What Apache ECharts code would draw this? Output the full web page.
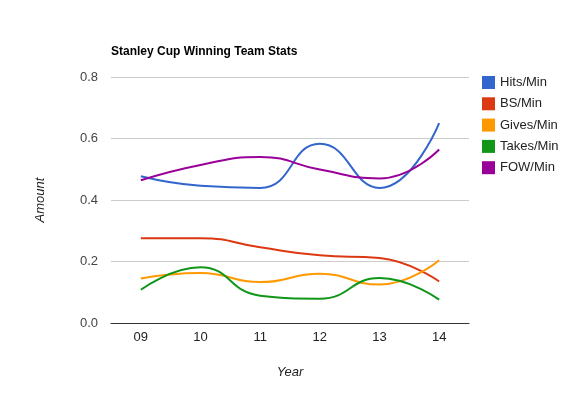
<!DOCTYPE html>
<html>
<head>
<meta charset="utf-8">
<script src="https://cdn.jsdelivr.net/npm/echarts@6/dist/echarts.min.js"></script>
<style>
html,body{margin:0;padding:0;background:#fff;}
#chart{width:580px;height:400px;}
</style>
</head>
<body>
<div id="chart"></div>
<script>
var years = ['09', '10', '11', '12', '13', '14'];
var hits = [0.477, 0.446, 0.439, 0.583, 0.439, 0.650];
var bs = [0.276, 0.276, 0.246, 0.220, 0.211, 0.135];
var gives = [0.145, 0.163, 0.133, 0.160, 0.125, 0.204];
var takes = [0.108, 0.181, 0.089, 0.079, 0.146, 0.076];
var fow = [0.464, 0.514, 0.540, 0.499, 0.470, 0.564];
var seriesNames = ['Hits/Min', 'BS/Min', 'Gives/Min', 'Takes/Min', 'FOW/Min'];
var seriesData = [hits, bs, gives, takes, fow];
var colors = ['#3366cc', '#dc3912', '#ff9900', '#109618', '#990099'];

var chart = echarts.init(document.getElementById('chart'), null, {renderer: 'canvas'});
var font = 'Arial, "Liberation Sans", sans-serif';
chart.setOption({
  animation: false,
  color: colors,
  textStyle: {fontFamily: font},
  title: {
    text: 'Stanley Cup Winning Team Stats',
    left: 111, top: 46, padding: 0,
    textStyle: {fontSize: 12, fontWeight: 'bold', color: '#000', fontFamily: font}
  },
  legend: {
    orient: 'vertical',
    left: 482, top: 76, padding: 0,
    icon: 'rect',
    itemWidth: 13, itemHeight: 13, itemGap: 8.3,
    textStyle: {fontSize: 13, color: '#222', fontFamily: font},
    data: seriesNames
  },
  grid: {left: 111, right: 111, top: 77, bottom: 77, containLabel: false},
  xAxis: {
    type: 'category',
    data: years,
    boundaryGap: true,
    name: 'Year',
    nameLocation: 'middle',
    nameGap: 43,
    nameTextStyle: {fontStyle: 'italic', fontSize: 13, color: '#222', fontFamily: font},
    axisLine: {lineStyle: {color: '#333', width: 1}},
    axisTick: {show: false},
    axisLabel: {fontSize: 13, color: '#222', margin: 8, fontFamily: font}
  },
  yAxis: {
    type: 'value',
    min: 0, max: 0.8, interval: 0.2,
    name: 'Amount',
    nameLocation: 'middle',
    nameGap: 64,
    nameRotate: 90,
    nameTextStyle: {fontStyle: 'italic', fontSize: 13, color: '#222', fontFamily: font},
    axisLine: {show: false},
    axisTick: {show: false},
    splitLine: {lineStyle: {color: '#cccccc', width: 1}},
    axisLabel: {fontSize: 13, color: '#444', margin: 13, fontFamily: font,
      formatter: function (v) { return v.toFixed(1); }}
  },
  series: seriesNames.map(function (n, i) {
    return {
      name: n,
      type: 'line',
      data: seriesData[i],
      smooth: 0.5,
      showSymbol: false,
      symbol: 'none',
      lineStyle: {width: 2, color: colors[i]},
      itemStyle: {color: colors[i]}
    };
  })
});
</script>
</body>
</html>
